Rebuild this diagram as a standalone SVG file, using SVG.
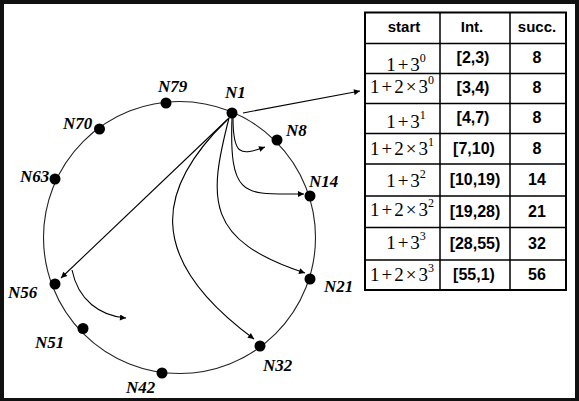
<svg xmlns="http://www.w3.org/2000/svg" width="579" height="401" viewBox="0 0 579 401">
<style>
.ring{fill:none;stroke:#222;stroke-width:1.1}
.dot{fill:#000}
.lbl{font-family:"Liberation Serif",serif;font-weight:bold;font-style:italic;font-size:17px;fill:#000}
.edge{fill:none;stroke:#000;stroke-width:1.1;marker-end:url(#ah)}
.hd{font-family:"Liberation Sans",Arial,sans-serif;font-weight:bold;font-size:15px;text-anchor:middle;fill:#000}
.val{font-family:"Liberation Sans",Arial,sans-serif;font-weight:bold;font-size:16px;text-anchor:middle;fill:#000}
.mth{font-family:"Liberation Serif",serif;font-size:19px;text-anchor:middle;fill:#000}
.sup{font-size:12px}
.grid{stroke:#000;stroke-width:1.5;fill:none}
</style>
<defs>
<marker id="ah" viewBox="0 0 10 10" refX="10" refY="5" markerWidth="8" markerHeight="6" orient="auto" markerUnits="userSpaceOnUse">
<path d="M0,0 L10,5 L0,10 z" fill="#000"/>
</marker>
</defs>
<rect x="0" y="0" width="579" height="401" fill="#111"/>
<rect x="4" y="4" width="571" height="394" fill="#fff"/>
<circle class="ring" cx="179.5" cy="237.5" r="136"/>
<g id="connectors">
<path class="edge" d="M243,113 L360,91"/>
<path class="edge" d="M233,118 C233,155 240,156 265,147"/>
<path class="edge" d="M232,118 C229,200 245,194 304,194"/>
<path class="edge" d="M229,118 C208,200 205,240 305,273"/>
<path class="edge" d="M227,120 C160,185 140,255 254,339"/>
<path class="edge" d="M229,118 L61,278"/>
<path class="edge" d="M72,270 C78,300 100,316 126,318"/>
</g>
<g id="N1"><circle class="dot" cx="232" cy="113" r="5.5"/><text class="lbl" x="225" y="98">N1</text></g>
<g id="N8"><circle class="dot" cx="277" cy="140" r="5.5"/><text class="lbl" x="286" y="136">N8</text></g>
<g id="N14"><circle class="dot" cx="310" cy="196" r="5.5"/><text class="lbl" x="309" y="186.5">N14</text></g>
<g id="N21"><circle class="dot" cx="310" cy="279" r="5.5"/><text class="lbl" x="324" y="292">N21</text></g>
<g id="N32"><circle class="dot" cx="260" cy="346" r="5.5"/><text class="lbl" x="263" y="371">N32</text></g>
<g id="N42"><circle class="dot" cx="162" cy="373" r="5.5"/><text class="lbl" x="126" y="392.5">N42</text></g>
<g id="N51"><circle class="dot" cx="83" cy="328.5" r="5.5"/><text class="lbl" x="35" y="347.5">N51</text></g>
<g id="N56"><circle class="dot" cx="55" cy="284" r="5.5"/><text class="lbl" x="8" y="298">N56</text></g>
<g id="N63"><circle class="dot" cx="55" cy="179" r="5.5"/><text class="lbl" x="20" y="181.5">N63</text></g>
<g id="N70"><circle class="dot" cx="99.5" cy="129" r="5.5"/><text class="lbl" x="63" y="129">N70</text></g>
<g id="N79"><circle class="dot" cx="166" cy="103" r="5.5"/><text class="lbl" x="158" y="92">N79</text></g>
<g id="table">
<rect x="365" y="12.5" width="201" height="277.5" fill="#fff" stroke="#000" stroke-width="2"/>
<path class="grid" d="M440,12.5 V290 M510,12.5 V290 M365,43.5 H566 M365,73.5 H566 M365,103.5 H566 M365,133.5 H566 M365,164 H566 M365,196 H566 M365,227.5 H566 M365,260 H566"/>
<text class="hd" x="404" y="32">start</text>
<text class="hd" x="472" y="32">Int.</text>
<text class="hd" x="537" y="32">succ.</text>
<text class="mth" x="406" y="71">1<tspan dx="2">+</tspan><tspan dx="2">3</tspan><tspan class="sup" dy="-9">0</tspan></text>
<text class="mth" x="402" y="93">1<tspan dx="2">+</tspan><tspan dx="2">2</tspan><tspan dx="2">×</tspan><tspan dx="2">3</tspan><tspan class="sup" dy="-9">0</tspan></text>
<text class="mth" x="406" y="127.5">1<tspan dx="2">+</tspan><tspan dx="2">3</tspan><tspan class="sup" dy="-9">1</tspan></text>
<text class="mth" x="402" y="155">1<tspan dx="2">+</tspan><tspan dx="2">2</tspan><tspan dx="2">×</tspan><tspan dx="2">3</tspan><tspan class="sup" dy="-9">1</tspan></text>
<text class="mth" x="406" y="186.5">1<tspan dx="2">+</tspan><tspan dx="2">3</tspan><tspan class="sup" dy="-9">2</tspan></text>
<text class="mth" x="402" y="216">1<tspan dx="2">+</tspan><tspan dx="2">2</tspan><tspan dx="2">×</tspan><tspan dx="2">3</tspan><tspan class="sup" dy="-9">2</tspan></text>
<text class="mth" x="406" y="249">1<tspan dx="2">+</tspan><tspan dx="2">3</tspan><tspan class="sup" dy="-9">3</tspan></text>
<text class="mth" x="402" y="281">1<tspan dx="2">+</tspan><tspan dx="2">2</tspan><tspan dx="2">×</tspan><tspan dx="2">3</tspan><tspan class="sup" dy="-9">3</tspan></text>
<text class="val" x="473" y="63">[2,3)</text>
<text class="val" x="473" y="93">[3,4)</text>
<text class="val" x="473" y="123">[4,7)</text>
<text class="val" x="474" y="154">[7,10)</text>
<text class="val" x="475" y="185">[10,19)</text>
<text class="val" x="475" y="217">[19,28)</text>
<text class="val" x="475" y="249">[28,55)</text>
<text class="val" x="474" y="280">[55,1)</text>
<text class="val" x="537" y="63">8</text>
<text class="val" x="537" y="93">8</text>
<text class="val" x="537" y="123">8</text>
<text class="val" x="537" y="154">8</text>
<text class="val" x="537" y="185">14</text>
<text class="val" x="537" y="217">21</text>
<text class="val" x="537" y="249">32</text>
<text class="val" x="537" y="280">56</text>
</g>
</svg>
